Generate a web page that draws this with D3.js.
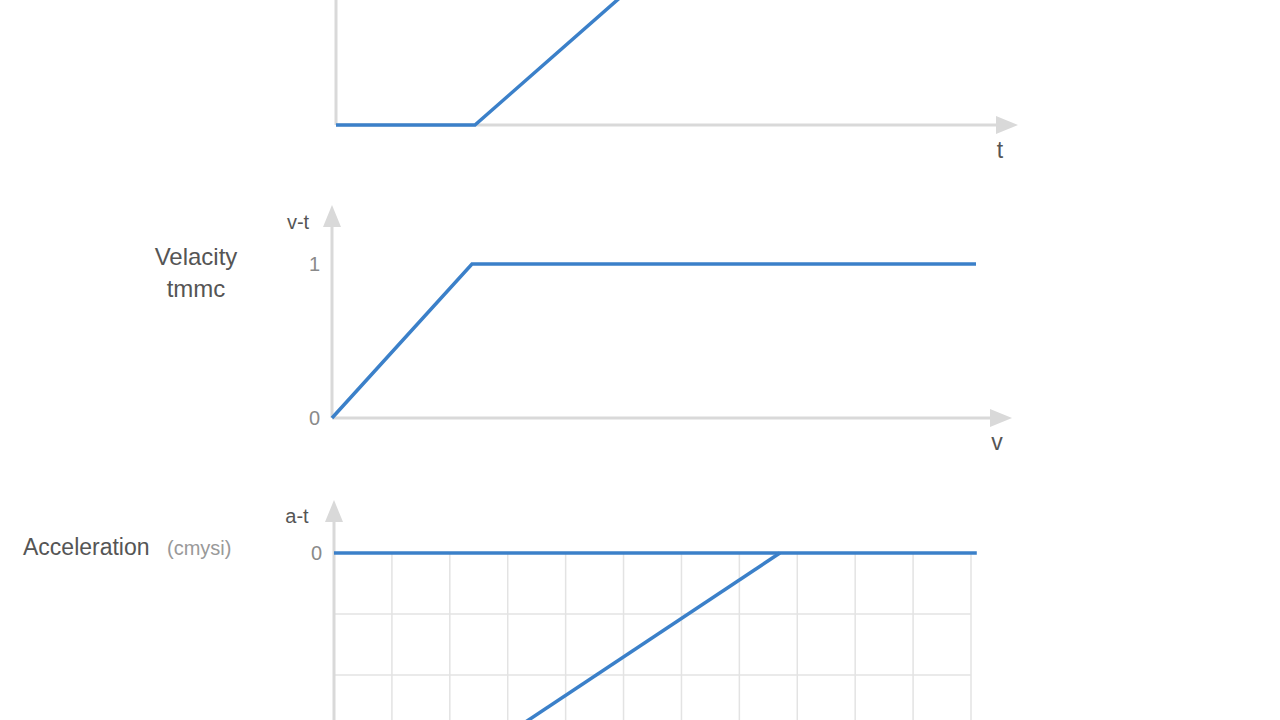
<!DOCTYPE html>
<html>
<head>
<meta charset="utf-8">
<script src="https://cdn.jsdelivr.net/npm/d3@7"></script>
<style>
  html, body { margin: 0; padding: 0; background: #fff; }
  svg { display: block; font-family: "Liberation Sans", "Noto Sans", sans-serif; }
</style>
</head>
<body>
<div id="chart"></div>
<script>
// position panel (top, cut off by the frame)
const posT = [0, 1, 2.5];
const posX = [0, 0, 1.5];

// velocity panel
const velT = [0, 1, 4.6];
const velV = [0, 1, 1];
const velTicks = [0, 1];

// acceleration panel
const accFlatT = [0, 11.1];
const accFlatA = [0, 0];
const accRampT = [2.5, 7.7];
const accRampA = [-3.28, 0];
const accTicks = [0];
const accGridT = d3.range(0, 12);
const accGridA = [0, -1, -2, -3];

const width = 1280, height = 720;
const axisColor = "#d9d9d9";
const lineColor = "#3b80c9";

const svg = d3.select("#chart").append("svg")
    .attr("width", width)
    .attr("height", height)
    .attr("viewBox", `0 0 ${width} ${height}`);

const line = d3.line();

function zip(xs, ys) { return xs.map((x, i) => [x, ys[i]]); }

// axis with arrowhead, drawn from a start point to a tip
function arrowAxis(g, x1, y1, x2, y2, dir) {
    const len = 22, half = 9;
    let ex = x2, ey = y2, tri;
    if (dir === "right") {
        ex = x2 - len;
        tri = [[x2, y2], [ex, y2 - half], [ex, y2 + half]];
    } else {
        ey = y2 + len;
        tri = [[x2, y2], [x2 - half, ey], [x2 + half, ey]];
    }
    g.append("line")
        .attr("x1", x1).attr("y1", y1).attr("x2", ex).attr("y2", ey)
        .attr("stroke", axisColor).attr("stroke-width", 3);
    g.append("path")
        .attr("d", "M" + tri.join("L") + "Z")
        .attr("fill", axisColor);
}

function tickLabels(g, axis) {
    g.call(axis.tickSize(0).tickPadding(12));
    g.select(".domain").remove();
    g.selectAll("text")
        .attr("fill", "#8a8a8a")
        .style("font-size", "20px")
        .style("font-family", "Liberation Sans, sans-serif");
}

// ---- 1. POSITION PANEL ----
{
    const x = d3.scaleLinear().domain([0, 4.7]).range([336, 989]);
    const y = d3.scaleLinear().domain([0, 1]).range([125, 3]);
    const g = svg.append("g");

    g.append("line")
        .attr("x1", x(0)).attr("y1", y(0)).attr("x2", x(0)).attr("y2", -10)
        .attr("stroke", axisColor).attr("stroke-width", 3);
    arrowAxis(g, x(0), y(0), 1018, y(0), "right");

    g.append("path")
        .attr("d", line(zip(posT, posX).map(d => [x(d[0]), y(d[1])])))
        .attr("fill", "none").attr("stroke", lineColor).attr("stroke-width", 3.5);

    g.append("text")
        .attr("x", 1000).attr("y", 158)
        .attr("text-anchor", "middle")
        .attr("fill", "#555").style("font-size", "23px")
        .text("t");
}

// ---- 2. VELOCITY PANEL ----
{
    const x = d3.scaleLinear().domain([0, 1]).range([332, 472]);
    const y = d3.scaleLinear().domain([0, 1]).range([418, 264]);
    const g = svg.append("g");

    arrowAxis(g, x(0), y(0), x(0), 205, "up");
    arrowAxis(g, x(0), y(0), 1012, y(0), "right");

    g.append("path")
        .attr("d", line(zip(velT, velV).map(d => [x(d[0]), y(d[1])])))
        .attr("fill", "none").attr("stroke", lineColor).attr("stroke-width", 3.5);

    const yAxisG = g.append("g").attr("transform", `translate(${x(0)},0)`);
    tickLabels(yAxisG, d3.axisLeft(y).tickValues(velTicks).tickFormat(d3.format("d")));

    g.append("text")
        .attr("x", 298).attr("y", 229)
        .attr("text-anchor", "middle")
        .attr("fill", "#555").style("font-size", "20px")
        .text("v-t");

    g.append("text")
        .attr("x", 997).attr("y", 450)
        .attr("text-anchor", "middle")
        .attr("fill", "#555").style("font-size", "23px")
        .text("v");

    g.append("text")
        .attr("x", 196).attr("y", 265)
        .attr("text-anchor", "middle")
        .attr("fill", "#555").style("font-size", "24px")
        .text("Velacity");
    g.append("text")
        .attr("x", 196).attr("y", 297)
        .attr("text-anchor", "middle")
        .attr("fill", "#555").style("font-size", "24px")
        .text("tmmc");
}

// ---- 3. ACCELERATION PANEL ----
{
    const x = d3.scaleLinear().domain([0, 11]).range([334, 971]);
    const y = d3.scaleLinear().domain([0, -1]).range([553, 614]);
    const g = svg.append("g");

    // grid
    g.append("g").selectAll("line").data(accGridT.slice(1)).join("line")
        .attr("x1", d => x(d)).attr("x2", d => x(d))
        .attr("y1", y(0)).attr("y2", y(-3.5))
        .attr("stroke", "#e3e3e3").attr("stroke-width", 1.5);
    g.append("g").selectAll("line").data(accGridA.slice(1)).join("line")
        .attr("x1", x(0)).attr("x2", x(11))
        .attr("y1", d => y(d)).attr("y2", d => y(d))
        .attr("stroke", "#e3e3e3").attr("stroke-width", 1.5);

    arrowAxis(g, x(0), 740, x(0), 500, "up");

    g.append("path")
        .attr("d", line(zip(accFlatT, accFlatA).map(d => [x(d[0]), y(d[1])])))
        .attr("fill", "none").attr("stroke", lineColor).attr("stroke-width", 3.5);
    g.append("path")
        .attr("d", line(zip(accRampT, accRampA).map(d => [x(d[0]), y(d[1])])))
        .attr("fill", "none").attr("stroke", lineColor).attr("stroke-width", 3.5);

    const yAxisG = g.append("g").attr("transform", `translate(${x(0)},0)`);
    tickLabels(yAxisG, d3.axisLeft(y).tickValues(accTicks).tickFormat(d3.format("d")));

    g.append("text")
        .attr("x", 297).attr("y", 523)
        .attr("text-anchor", "middle")
        .attr("fill", "#555").style("font-size", "20px")
        .text("a-t");

    g.append("text")
        .attr("x", 23).attr("y", 555)
        .attr("fill", "#555").style("font-size", "23px")
        .text("Acceleration");
    g.append("text")
        .attr("x", 167).attr("y", 555)
        .attr("fill", "#999").style("font-size", "20px")
        .text("(cmysi)");
}
</script>
</body>
</html>
